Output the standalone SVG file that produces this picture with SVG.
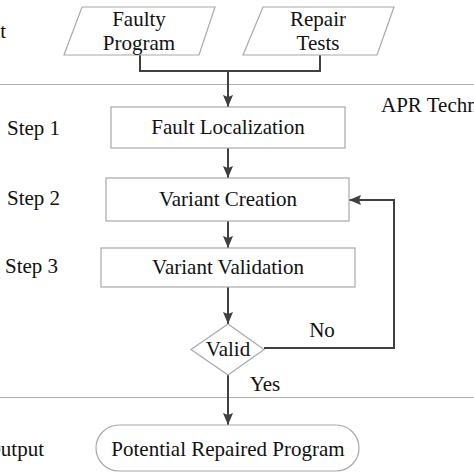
<svg xmlns="http://www.w3.org/2000/svg" width="474" height="474" viewBox="0 0 474 474">
<style>
text{font-family:'Liberation Serif','Times New Roman',serif;font-size:21px;fill:#111}
.c{text-anchor:middle}
.shape{fill:#fff;stroke:#a8a8a8;stroke-width:1.2}
.sep{stroke:#b0b0b0;stroke-width:1.2;fill:none}
.conn{stroke:#404040;stroke-width:2;fill:none}
</style>
<defs>
<marker id="arr" viewBox="0 0 12 10" refX="12" refY="5" markerWidth="12" markerHeight="10" markerUnits="userSpaceOnUse" orient="auto">
<path d="M0,0 L12,5 L0,10 L2,5 Z" fill="#404040"/>
</marker>
</defs>
<rect width="474" height="474" fill="#fff"/>
<g id="separators">
<line class="sep" x1="0" y1="84.5" x2="474" y2="84.5"/>
<line class="sep" x1="0" y1="397.5" x2="474" y2="397.5"/>
</g>
<g id="lane-labels" font-family="Liberation Serif, serif">
<text x="6" y="38" text-anchor="end">Input</text>
<text x="381" y="112">APR Technique</text>
<text x="7" y="135">Step 1</text>
<text x="7" y="205">Step 2</text>
<text x="5" y="273">Step 3</text>
<text x="44" y="456" text-anchor="end">Output</text>
</g>
<g id="connectors">
<polyline class="conn" points="140,55 140,71 320,71 320,55"/>
<line class="conn" x1="228" y1="71" x2="228" y2="107" marker-end="url(#arr)"/>
<line class="conn" x1="228" y1="148" x2="228" y2="178" marker-end="url(#arr)"/>
<line class="conn" x1="228" y1="221" x2="228" y2="248" marker-end="url(#arr)"/>
<line class="conn" x1="228" y1="287" x2="228" y2="324" marker-end="url(#arr)"/>
<polyline class="conn" points="264,348 394,348 394,200 349,200" marker-end="url(#arr)"/>
<line class="conn" x1="228" y1="375" x2="228" y2="425" marker-end="url(#arr)"/>
<text class="c" x="322" y="337">No</text>
<text class="c" x="265" y="391">Yes</text>
</g>
<g id="faulty-program">
<polygon class="shape" points="82,7 215,7 199,55 64,55"/>
<text class="c" x="139" y="26">Faulty</text>
<text class="c" x="139" y="50">Program</text>
</g>
<g id="repair-tests">
<polygon class="shape" points="263,7 394,7 377,55 243,55"/>
<text class="c" x="318" y="26">Repair</text>
<text class="c" x="318" y="50">Tests</text>
</g>
<g id="fault-localization">
<rect class="shape" x="111" y="107" width="234" height="41"/>
<text class="c" x="228" y="134">Fault Localization</text>
</g>
<g id="variant-creation">
<rect class="shape" x="106" y="178" width="243" height="43"/>
<text class="c" x="228" y="206">Variant Creation</text>
</g>
<g id="variant-validation">
<rect class="shape" x="101" y="248" width="254" height="39"/>
<text class="c" x="228" y="274">Variant Validation</text>
</g>
<g id="valid">
<polygon class="shape" points="228,324 264,349.5 228,375 191,349.5"/>
<text class="c" x="228" y="356">Valid</text>
</g>
<g id="potential-repaired-program">
<rect class="shape" x="96" y="425" width="263" height="46" rx="23" ry="23"/>
<text class="c" x="228" y="456">Potential Repaired Program</text>
</g>
</svg>
